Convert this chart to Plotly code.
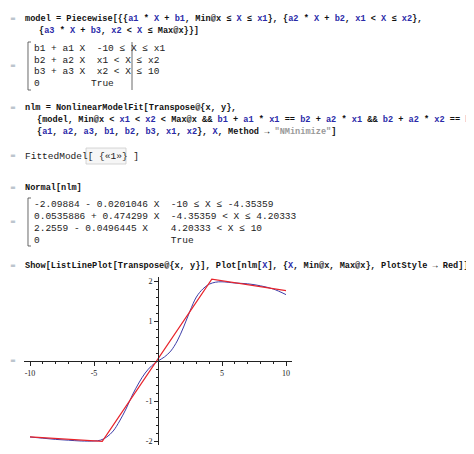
import plotly.graph_objects as go

W, H = 474, 454

# data polyline (blue)
dataX = [-10, -9, -8, -7, -6, -5, -4.5, -4, -3.5, -3, -2.5, -2, -1.5, -1, -0.5, 0,
         0.5, 1, 1.5, 2, 2.5, 3, 3.5, 4, 4.5, 5, 6, 7, 8, 9, 10]
dataY = [-1.9, -1.93, -1.96, -1.98, -2.0, -2.0, -1.98, -1.9, -1.75, -1.5, -1.2, -0.85, -0.55, -0.3, -0.12, 0.0,
         0.1, 0.25, 0.5, 0.85, 1.25, 1.6, 1.8, 1.92, 1.97, 1.98, 1.95, 1.93, 1.88, 1.8, 1.66]

# fitted piecewise model
fitX = [-10, -4.35359, 4.20333, 10]
fitY = [-2.09884 - 0.0201046 * v if v <= -4.35359 else
        (0.0535886 + 0.474299 * v if v <= 4.20333 else 2.2559 - 0.0496445 * v) for v in fitX]

B = "#2a2aa8"
def v(s):
    return "<span style='color:%s'>%s</span>" % (B, s)

inputLines = [
    (15, 11, "model = Piecewise[{{" + v("a1") + " * " + v("X") + " + " + v("b1") + ", Min@x ≤ " + v("X") + " ≤ " + v("x1") + "}, {"
     + v("a2") + " * " + v("X") + " + " + v("b2") + ", " + v("x1") + " < " + v("X") + " ≤ " + v("x2") + "},"),
    (29, 23, "{" + v("a3") + " * " + v("X") + " + " + v("b3") + ", " + v("x2") + " < " + v("X") + " ≤ Max@x}}]"),
    (15, 100, "nlm = NonlinearModelFit[Transpose@{x, y},"),
    (27, 112, "{model, Min@x < " + v("x1") + " < " + v("x2") + " < Max@x && " + v("b1") + " + " + v("a1") + " * " + v("x1")
     + " == " + v("b2") + " + " + v("a2") + " * " + v("x1") + " && " + v("b2") + " + " + v("a2") + " * " + v("x2") + " == "
     + v("b3") + " + " + v("a3") + " * " + v("x2") + "},"),
    (27, 124, "{" + ", ".join(v(s) for s in ["a1", "a2", "a3", "b1", "b2", "b3", "x1", "x2"]) + "}, " + v("X")
     + ", Method → <span style='color:#999'>\"NMinimize\"</span>]"),
    (15, 180, "Normal[nlm]"),
    (15, 258, "Show[ListLinePlot[Transpose@{x, y}], Plot[nlm[" + v("X") + "], {" + v("X") + ", Min@x, Max@x}, PlotStyle → Red]]"),
]

outputLines = [
    (24, 40, "b1 + a1 X  -10 ≤ X ≤ x1"),
    (24, 52, "b2 + a2 X  x1 < X ≤ x2"),
    (24, 64, "b3 + a3 X  x2 < X ≤ 10"),
    (24, 76, "0         True"),
    (15, 148, "FittedModel[ {«1»} ]"),
    (24, 196, "-2.09884 - 0.0201046 X  -10 ≤ X ≤ -4.35359"),
    (24, 208, "0.0535886 + 0.474299 X  -4.35359 < X ≤ 4.20333"),
    (24, 220, "2.2559 - 0.0496445 X    4.20333 < X ≤ 10"),
    (24, 232, "0                       True"),
]

fig = go.Figure()
fig.add_trace(go.Scatter(x=dataX, y=dataY, mode="lines", line=dict(color="#3d3da8", width=1), line_shape="spline"))
fig.add_trace(go.Scatter(x=fitX, y=fitY, mode="lines", line=dict(color="#e8242c", width=1.2)))

anns = []
for x, y, t in inputLines:
    anns.append(dict(x=x / W, y=1 - y / H, xref="paper", yref="paper", xanchor="left", yanchor="middle",
                     showarrow=False, text="<b>" + t + "</b>",
                     font=dict(family="Liberation Mono", size=8.6, color="#111")))
for x, y, t in outputLines:
    anns.append(dict(x=x / W, y=1 - y / H, xref="paper", yref="paper", xanchor="left", yanchor="middle",
                     showarrow=False, text=t.replace(" ", "&nbsp;"),
                     font=dict(family="Liberation Mono", size=9.5, color="#222")))
for y in [11, 58, 100, 148, 180, 214, 258, 353]:
    anns.append(dict(x=0, y=1 - y / H, xref="paper", yref="paper", xanchor="left", yanchor="middle",
                     showarrow=False, text="=", font=dict(family="DejaVu Sans", size=7, color="#8899aa")))

shapes = []
for top, bot, right in [(34, 82, 124), (190, 238, 0)]:
    shapes.append(dict(type="path", xref="paper", yref="paper",
                       path="M %f %f L %f %f L %f %f L %f %f" % (23 / W, 1 - top / H, 20 / W, 1 - top / H,
                                                               20 / W, 1 - bot / H, 23 / W, 1 - bot / H),
                       line=dict(color="#444", width=0.8)))
    if right:
        shapes.append(dict(type="line", xref="paper", yref="paper", x0=right / W, x1=right / W,
                           y0=1 - top / H, y1=1 - bot / H, line=dict(color="#444", width=0.8)))
shapes.append(dict(type="rect", xref="paper", yref="paper", x0=78 / W, x1=118 / W, y0=1 - 140 / H, y1=1 - 156 / H,
                   line=dict(color="#ccc", width=0.8), fillcolor="rgba(240,240,240,0.6)", layer="below"))

yd = [1 - 437 / H, 1 - 269 / H]
xd = [15.6 / W, 284.4 / W]
ax = dict(showgrid=False, zeroline=False, showline=True, linecolor="#222", linewidth=1,
          ticks="outside", ticklen=4, tickcolor="#222", anchor="free",
          tickfont=dict(family="Liberation Serif", size=8, color="#222"))
fig.update_layout(
    width=W, height=H, margin=dict(l=0, r=0, t=0, b=0), showlegend=False,
    paper_bgcolor="white", plot_bgcolor="rgba(0,0,0,0)",
    xaxis=dict(ax, domain=xd, range=[-10.5, 10.5], tickvals=[-10, -5, 5, 10], ticktext=["-10", "-5", "5", "10"],
               position=(yd[0] + yd[1]) / 2, minor=dict(dtick=1, ticklen=2, ticks="outside", tickcolor="#222")),
    yaxis=dict(ax, domain=yd, range=[-2.1, 2.1], tickvals=[-2, -1, 1, 2], ticktext=["-2", "-1", "1", "2"],
               position=(xd[0] + xd[1]) / 2, minor=dict(dtick=0.2, ticklen=2, ticks="outside", tickcolor="#222")),
    annotations=anns, shapes=shapes,
)
fig.write_html("out.html")
